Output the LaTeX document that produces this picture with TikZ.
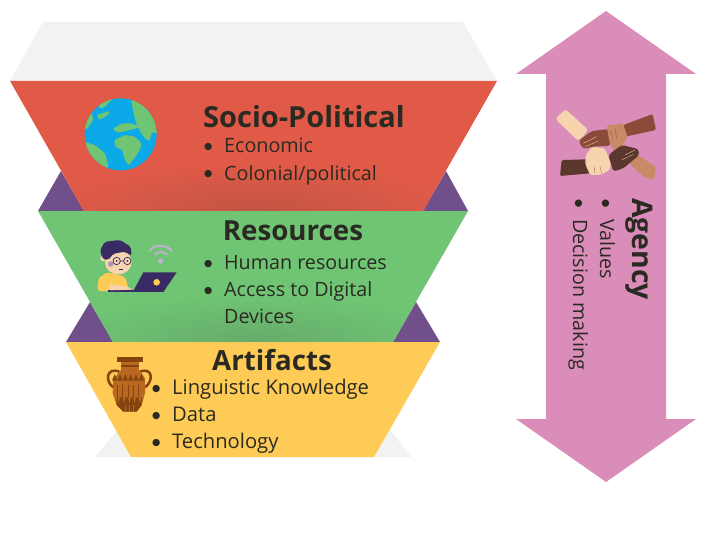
\documentclass[tikz,border=0pt]{standalone}
\usepackage{fontspec}
\setmainfont{Open Sans}
\newfontfamily\bulfont{DejaVu Sans}
\usetikzlibrary{%
  positioning%
}
\definecolor{redpanel}{HTML}{E05A47}
\definecolor{redshadow}{HTML}{C25543}
\definecolor{greenpanel}{HTML}{6FC573}
\definecolor{greenshadow}{HTML}{66AB6B}
\definecolor{yellowpanel}{HTML}{FFCB57}
\definecolor{purpleside}{HTML}{714F8B}
\definecolor{greyside}{HTML}{F1F3F2}
\definecolor{pinkarrow}{HTML}{DB8DB9}
\definecolor{inktext}{HTML}{2A2A22}
\definecolor{seablue}{HTML}{0BA9E8}
\definecolor{landgreen}{HTML}{6FC573}
\definecolor{navyicon}{HTML}{3A2A63}
\definecolor{skinlight}{HTML}{F6D4AE}
\definecolor{skinbrown}{HTML}{8A4B38}
\definecolor{skintan}{HTML}{C68B66}
\definecolor{skindark}{HTML}{5C372D}
\definecolor{vasebody}{HTML}{B9691F}
\definecolor{vasedark}{HTML}{84430F}
\newcommand{\bul}[1]{\makebox[20pt][l]{\smash{\raisebox{3pt}{\bulfont\fontsize{9.5}{10}\selectfont ●}}}#1}
\tikzset{
  headtext/.style={text=inktext,inner sep=0pt,font=\fontsize{27.7}{30}\selectfont\bfseries},
  bodytext/.style={text=inktext,inner sep=0pt,anchor=base west,font=\fontsize{19.7}{22}\selectfont},
  artifacttext/.style={bodytext,font=\fontsize{20.2}{22}\selectfont},
  land/.style={fill=landgreen,rounded corners=1.5pt}
}
\begin{document}
\begin{tikzpicture}[x=1pt,y=-1pt]
  \useasboundingbox (0,0) rectangle (714,540);
  % side faces
  \fill [greyside] (43,22) -- (463,22) -- (497,81) -- (10,81) -- cycle;
  \fill [greyside] (120,427) -- (131,457) -- (95,457) -- cycle;
  \fill [greyside] (388,427) -- (411,457) -- (374,457) -- cycle;
  \fill [purpleside] (61,171) -- (84,211) -- (38,211) -- cycle;
  \fill [purpleside] (446,171) -- (468,211) -- (423,211) -- cycle;
  \fill [purpleside] (90,302) -- (113,342) -- (66,342) -- cycle;
  \fill [purpleside] (416,302) -- (440,342) -- (393,342) -- cycle;
  % panels
  \fill [redpanel] (10,81) -- (497,81) -- (423,211) -- (84,211) -- cycle;
  \begin{scope}
    \clip (10,81) -- (497,81) -- (423,211) -- (84,211) -- cycle;
    \shade [inner color=redshadow,outer color=redpanel] (255,211) ellipse (200 and 48);
  \end{scope}
  \fill [greenpanel] (38,211) -- (468,211) -- (393,342) -- (113,342) -- cycle;
  \begin{scope}
    \clip (38,211) -- (468,211) -- (393,342) -- (113,342) -- cycle;
    \shade [inner color=greenshadow,outer color=greenpanel] (255,342) ellipse (200 and 48);
  \end{scope}
  \fill [yellowpanel] (66,342) -- (440,342) -- (374,457) -- (131,457) -- cycle;
  % double arrow
  \fill [pinkarrow] (606,11) -- (696,74) -- (666,74) -- (666,419) -- (696,419)
    -- (606,482) -- (516,419) -- (546,419) -- (546,74) -- (516,74) -- cycle;
  % globe
  \begin{scope}[shift={(75,90)},scale=1/3]
    \fill [seablue] (137,133) circle (108);
    \clip (137,133) circle (108);
    \fill [land] (168,30) -- (200,22) -- (255,90) -- (255,135) -- (232,125) -- (222,155)
      -- (205,140) -- (185,105) -- (175,65) -- cycle;
    \fill [land] (118,150) -- (150,135) -- (180,140) -- (200,160) -- (195,180) -- (178,205)
      -- (160,228) -- (148,205) -- (142,180) -- (120,170) -- cycle;
    \fill [land] (112,118) -- (140,100) -- (170,100) -- (195,112) -- (165,120) -- (130,128) -- cycle;
    \fill [land] (25,155) -- (60,165) -- (90,190) -- (100,225) -- (95,245) -- (60,245) -- (25,190) -- cycle;
    \fill [land] (70,45) -- (118,22) -- (90,50) -- (75,57) -- cycle;
    \fill [land] (65,75) -- (105,62) -- (100,75) -- (72,90) -- cycle;
    \fill [land] (25,115) -- (50,68) -- (55,90) -- (35,118) -- cycle;
  \end{scope}
  % person with laptop
  \begin{scope}[shift={(90,235)},scale=1/3]
    \fill [yellowpanel,rounded corners=3pt] (22,168) -- (25,130) -- (50,112) -- (80,118) -- (105,125) -- (118,168) -- cycle;
    \fill [skinlight] (85,82) ellipse (40 and 36);
    \fill [skinlight] (40,70) circle (9);
    \fill [navyicon,rounded corners=2pt] (38,72) -- (30,45) -- (45,20) -- (90,15) -- (122,35) -- (125,62)
      -- (105,50) -- (70,56) -- (55,75) -- cycle;
    \fill [purpleside!60!white] (62,87) circle (8);
    \draw [navyicon,line width=.7] (80,78) circle (11) (112,78) circle (11) (91,78) -- (101,78);
    \fill [navyicon] (80,78) circle (3) (112,78) circle (3);
    \draw [navyicon,line width=.7] (88,102) -- (100,102);
    \fill [navyicon] (160,112) -- (260,112) -- (222,168) -- (130,168) -- cycle;
    \fill [navyicon] (55,166) rectangle (222,172);
    \fill [yellowpanel] (200,142) circle (10);
    \fill [skinlight,rounded corners=1pt] (55,148) -- (110,155) -- (128,163) -- (95,165) -- (60,166) -- cycle;
    \fill [purpleside!45!white] (212,78) circle (8);
    \draw [purpleside!45!white,line width=2] (212,78) ++(-140:46) arc [start angle=-140,end angle=-40,radius=46];
    \draw [purpleside!45!white,line width=2] (212,78) ++(-135:27) arc [start angle=-135,end angle=-45,radius=27];
  \end{scope}
  % vase
  \begin{scope}[shift={(100,350)},scale=1/3]
    \draw [vasedark,line width=2.5] (58,65) .. controls (18,50) and (15,95) .. (40,112);
    \draw [vasedark,line width=2.5] (120,65) .. controls (160,50) and (160,95) .. (135,112);
    \fill [vasebody] (62,30) rectangle (118,62);
    \fill [vasedark] (52,22) rectangle (128,36);
    \fill [vasebody] (60,62) -- (120,62) -- (135,85) -- (135,130) -- (125,165) -- (110,185)
      -- (70,185) -- (50,165) -- (38,130) -- (40,90) -- cycle;
    \fill [vasedark] (62,46) rectangle (118,50);
    \foreach \sx in {44,60,76,92,108,124}
      \fill [vasedark] (\sx-8,92) -- (\sx,72) -- (\sx+8,92) -- cycle;
    \foreach \sx in {52,68,84,100,116}
      \draw [vasedark,line width=.7] (\sx,105) -- (\sx,140);
    \fill [vasedark] (50,142) -- (126,142) -- (125,165) -- (110,185) -- (70,185) -- (50,165) -- cycle;
    \foreach \sx in {60,76,92,108,124}
      \fill [vasebody] (\sx-8,142) -- (\sx,142) -- (\sx-4,160) -- cycle;
    \foreach \sx in {75,87,99}
      \draw [vasebody,line width=.7] (\sx,166) -- (\sx,185);
  \end{scope}
  % hands
  \begin{scope}[shift={(550,105)},scale=1/3]
    \fill [skinlight,rounded corners=3pt] (16,42) -- (46,12) -- (115,75) -- (85,108) -- cycle;
    \fill [skintan,rounded corners=2pt] (225,130) -- (262,150) -- (318,185) -- (312,225) -- (280,215) -- (238,175) -- cycle;
    \fill [skinbrown,rounded corners=1.5pt] (220,60) -- (308,27) -- (318,75) -- (225,95) -- cycle;
    \fill [skinbrown,rounded corners=3pt] (85,108) -- (125,78) -- (178,72) -- (182,122) -- (130,125) -- (100,132) -- cycle;
    \fill [skintan,rounded corners=2pt] (170,62) -- (218,55) -- (232,92) -- (222,115) -- (195,145) -- (178,110) -- cycle;
    \fill [skindark,rounded corners=1.5pt] (35,165) -- (112,163) -- (120,205) -- (30,213) -- cycle;
    \fill [skindark,rounded corners=3pt] (175,150) -- (215,120) -- (265,132) -- (268,150) -- (220,190) -- (190,200) -- cycle;
    \fill [skinlight,rounded corners=3pt] (108,150) -- (125,125) -- (165,130) -- (182,175) -- (180,195) -- (150,210) -- (120,210) -- (105,175) -- cycle;
    \draw [skinlight,line width=.3] (100,115) -- (140,95) (105,125) -- (145,108);
    \draw [skinlight,line width=.3] (225,150) -- (255,135) (215,165) -- (250,148);
    \draw [skinbrown,line width=.3] (195,70) -- (200,100) (180,75) -- (188,100);
    \draw [skinbrown,line width=.3] (135,205) -- (132,185) (155,205) -- (150,185);
  \end{scope}
  % texts
  \node [headtext,anchor=base west,font=\fontsize{29}{30}\selectfont\bfseries] (socio) at (203,128) {Socio-Political};
  \node [bodytext] (economic) at (204,153) {\bul{Economic}};
  \node [bodytext] (colonial) at (204,180) {\bul{Colonial/political}};
  \node [headtext,anchor=base] (resources) at (293,240) {Resources};
  \node [bodytext] (human) at (204,269) {\bul{Human resources}};
  \node [bodytext] (access) at (204,296) {\bul{Access to Digital}};
  \node [bodytext] (devices) at (224,323) {Devices};
  \node [headtext,anchor=base] (artifacts) at (272,370) {Artifacts};
  \node [artifacttext] (linguistic) at (152,394) {\bul{Linguistic Knowledge}};
  \node [artifacttext] (data) at (152,421) {\bul{Data}};
  \node [artifacttext] (technology) at (152,448) {\bul{Technology}};
  \node [headtext,anchor=base west,rotate=-90,font=\fontsize{28.4}{30}\selectfont\bfseries] (agency) at (632,198) {Agency};
  \node [bodytext,rotate=-90] (values) at (600,199) {\bul{Values}};
  \node [bodytext,rotate=-90] (decision) at (573,199) {\bul{Decision making}};
\end{tikzpicture}
\end{document}
